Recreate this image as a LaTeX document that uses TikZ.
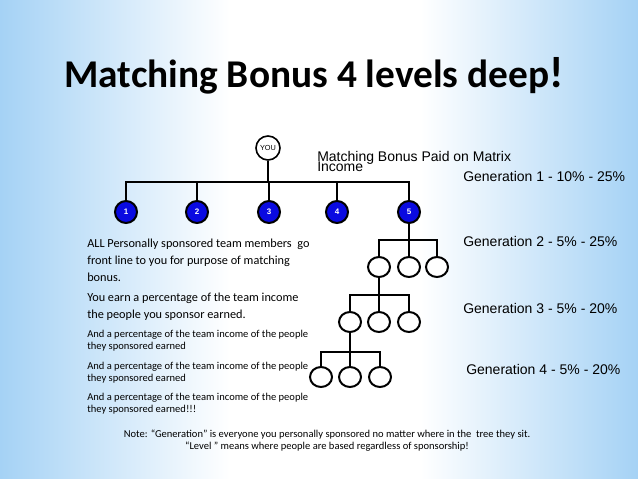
\documentclass[tikz,border=0pt]{standalone}
\usepackage{fontspec}
\setmainfont{Carlito}
\newfontfamily\arialfont{Liberation Sans}
\usetikzlibrary{positioning, shapes.geometric, calc}
\definecolor{skyedge}{RGB}{165,210,245}
\definecolor{memberblue}{RGB}{10,10,225}
\tikzset{
  % Title and texts
  slidetitle/.style={font=\fontsize{29.5}{34}\selectfont\bfseries, inner sep=0pt},
  bodytext/.style={align=left, inner sep=0pt, font=\fontsize{9.2}{12.5}\selectfont},
  smalltext/.style={align=left, inner sep=0pt, font=\fontsize{7.9}{8.8}\selectfont},
  notetext/.style={align=center, inner sep=0pt, font=\fontsize{7.9}{8.8}\selectfont},
  arialtext/.style={align=left, inner sep=0pt, font=\arialfont\fontsize{10.5}{12}\selectfont},
  gentext/.style={inner sep=0pt, font=\arialfont\fontsize{10.5}{12}\selectfont},
  % Tree nodes
  rootnode/.style={
    draw, circle, line width=1.2pt, fill=white,
    minimum size=18pt, inner sep=0pt,
    font=\arialfont\fontsize{5.5}{6}\selectfont
  },
  member/.style={
    draw, circle, line width=1.5pt, fill=memberblue, text=white,
    minimum size=16.5pt, inner sep=0pt,
    font=\arialfont\fontsize{6}{7}\selectfont\bfseries
  },
  downline/.style={
    draw, ellipse, line width=1.5pt, fill=white,
    minimum width=16.5pt, minimum height=15pt, inner sep=0pt
  },
  % Tree connectors
  branch/.style={-, line width=1.5pt},
}

\begin{document}
\begin{tikzpicture}[x=0.75pt, y=-0.75pt]

  %% ── Background ──
  \fill[white] (0,0) rectangle (638,478);
  \shade[left color=skyedge, right color=white] (0,0) rectangle (230,478);
  \shade[left color=white, right color=skyedge] (420,0) rectangle (638,478);
  \useasboundingbox (0,0) rectangle (638,478);

  %% ── Title ──
  \node[slidetitle, anchor=base] (title) at (314,87)
    {Matching Bonus 4 levels deep{\fontsize{33}{34}\selectfont!}};

  %% ── Front line ──
  \node[rootnode] (you) at (268,148) {YOU};
  \coordinate (bus1) at (268,182);
  \foreach \i/\x in {1/126, 2/197, 3/269, 4/337, 5/409}
    \node[member] (m\i) at (\x,212) {\i};

  \draw[branch] (you.south) -- (you.south |- bus1);
  \draw[branch] (m1.north) |- (bus1) -| (m5.north);
  \foreach \i in {2,3,4}
    \draw[branch] (m\i.north) -- (m\i.north |- bus1);

  %% ── Generation 2 ──
  \node[downline] (g2a) at (379,267) {};
  \node[downline] (g2b) at (409,267) {};
  \node[downline] (g2c) at (437,267) {};
  \coordinate (bus2) at (409,240);
  \draw[branch] (m5.south) -- (g2b.north);
  \draw[branch] (g2a.north) |- (bus2) -| (g2c.north);

  %% ── Generation 3 ──
  \node[downline] (g3a) at (350,322) {};
  \node[downline] (g3b) at (379,322) {};
  \node[downline] (g3c) at (409,322) {};
  \coordinate (bus3) at (379,295);
  \draw[branch] (g2a.south) -- (g3b.north);
  \draw[branch] (g3a.north) |- (bus3) -| (g3c.north);

  %% ── Generation 4 ──
  \node[downline] (g4a) at (321,377) {};
  \node[downline] (g4b) at (350,377) {};
  \node[downline] (g4c) at (380,377) {};
  \coordinate (bus4) at (350,352);
  \draw[branch] (g3a.south) -- (g4b.north);
  \draw[branch] (g4a.north) |- (bus4) -| (g4c.north);

  %% ── Labels ──
  \node[arialtext, anchor=base west] (paid) at (317,171)
    {Matching Bonus Paid on Matrix\\[-4.5pt]Income};
  \node[gentext, anchor=base west] (gen1) at (463,181) {Generation 1 - 10\% - 25\%};
  \node[gentext, anchor=base west] (gen2) at (463,246) {Generation 2 - 5\% - 25\%};
  \node[gentext, anchor=base west] (gen3) at (463,313) {Generation 3 - 5\% - 20\%};
  \node[gentext, anchor=base west] (gen4) at (466,374) {Generation 4 - 5\% - 20\%};

  %% ── Explanation ──
  \node[bodytext, anchor=base west] (para1) at (87,281)
    {ALL Personally sponsored team members\ \ go\\front line to you for purpose of matching\\bonus.};
  \node[bodytext, anchor=base west] (para2) at (87,318)
    {You earn a percentage of the team income\\the people you sponsor earned.};
  \node[smalltext, anchor=base west] (para3) at (87,349)
    {And a percentage of the team income of the people\\they sponsored earned};
  \node[smalltext, anchor=base west] (para4) at (87,381)
    {And a percentage of the team income of the people\\they sponsored earned};
  \node[smalltext, anchor=base west] (para5) at (87,412)
    {And a percentage of the team income of the people\\they sponsored earned!!!};
  \node[notetext, anchor=base] (note) at (327,449.5)
    {Note: “Generation” is everyone you personally sponsored no matter where in the\ \ tree they sit.\\“Level ” means where people are based regardless of sponsorship!};

\end{tikzpicture}
\end{document}
